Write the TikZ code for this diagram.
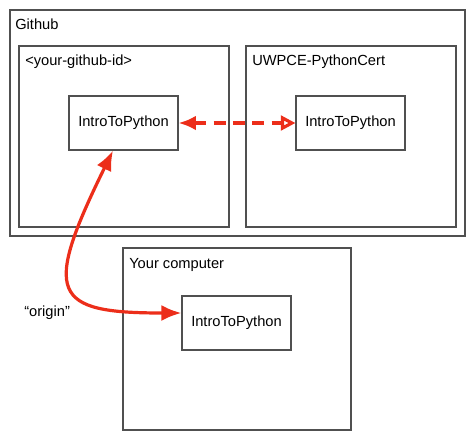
\documentclass[tikz,border=0pt]{standalone}
\usepackage{fontspec}
\setmainfont{Liberation Sans}
\usetikzlibrary{arrows.meta,positioning}

\definecolor{linkred}{RGB}{236,46,26}
\definecolor{boxgray}{RGB}{80,80,80}

\begin{document}
\begin{tikzpicture}[
    x=0.75pt, y=-0.75pt,
    font=\fontsize{11}{13}\selectfont,
    frame/.style={
        rectangle,
        draw=boxgray,
        line width=0.8pt,
        inner sep=0pt
    },
    repo/.style={
        frame,
        minimum width=81.75pt,
        minimum height=40.5pt
    },
    account/.style={
        frame,
        minimum width=157.5pt,
        minimum height=135.75pt
    },
    boxlabel/.style={
        anchor=base west,
        inner sep=0pt
    },
    link/.style={
        draw=linkred,
        line width=2.4pt
    }
]

\useasboundingbox (0,0) rectangle (474,440);

% Github with the two accounts
\node[frame, minimum width=341.25pt, minimum height=169.5pt] (github) at (237.5,123) {};
\node[boxlabel] (githublbl) at (15,29) {Github};

\node[account] (myacct)   at (124,136.5) {};
\node[boxlabel] (myacctlbl) at (25,65) {<your-github-id>};

\node[account] (upacct)   at (351,136.5) {};
\node[boxlabel] (upacctlbl) at (252,65) {UWPCE-PythonCert};

\node[repo] (myrepo) at (123.5,123) {IntroToPython};
\node[repo] (uprepo) at (350.5,123) {IntroToPython};

% --- local machine ---
\node[frame, minimum width=171pt, minimum height=136.5pt] (computer) at (237,339) {};
\node[boxlabel] (computerlbl) at (129,268) {Your computer};

\node[repo] (localrepo) at (236.5,323) {IntroToPython};

\node[boxlabel] (originlbl) at (24,316) {``origin''};

% Links between the repositories
\draw[link, dash pattern=on 9pt off 5.5pt, {Latex[length=13pt,width=11pt]}-{Triangle[open,length=11pt,width=11pt]}]
    (myrepo.east) -- (uprepo.west);
\draw[link, {Latex[length=15pt,width=12pt]}-{Latex[length=15pt,width=12pt]}]
    (myrepo.south -| 113,0) .. controls (42,295) and (52,313) .. (localrepo.west |- 0,313);

\end{tikzpicture}
\end{document}
